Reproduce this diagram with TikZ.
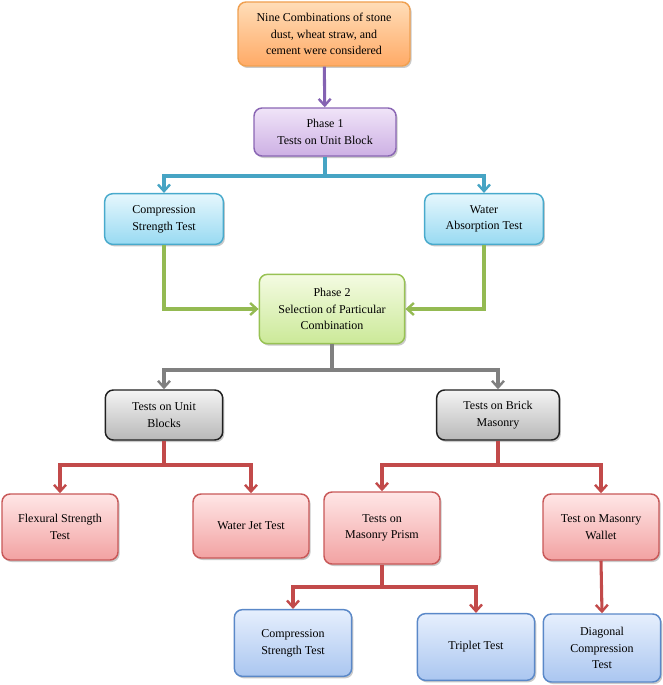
\documentclass[tikz,border=0pt]{standalone}
\usepackage{fontspec}
\setmainfont{Liberation Serif}
\usetikzlibrary{arrows.meta,shadows}
\definecolor{orB}{HTML}{F0A050}\definecolor{orT}{HTML}{FFDDB8}\definecolor{orD}{HTML}{FFAA66}
\definecolor{puB}{HTML}{8A66B4}\definecolor{puT}{HTML}{F0E4F8}\definecolor{puD}{HTML}{CDB0E4}
\definecolor{blB}{HTML}{48AACC}\definecolor{blT}{HTML}{E6F7FD}\definecolor{blD}{HTML}{98DAF2}
\definecolor{grB}{HTML}{98C254}\definecolor{grT}{HTML}{F4FBE2}\definecolor{grD}{HTML}{CBE998}
\definecolor{gyB}{HTML}{202020}\definecolor{gyT}{HTML}{F4F4F4}\definecolor{gyD}{HTML}{B8B8B8}
\definecolor{rdB}{HTML}{C85858}\definecolor{rdT}{HTML}{FFE6E6}\definecolor{rdD}{HTML}{F2A2A2}
\definecolor{lbB}{HTML}{5A88C8}\definecolor{lbT}{HTML}{E6EFFD}\definecolor{lbD}{HTML}{AAC6F0}
\definecolor{cPu}{HTML}{8462B2}\definecolor{cBl}{HTML}{46A4C4}\definecolor{cGr}{HTML}{94BA52}
\definecolor{cGy}{HTML}{808080}\definecolor{cRd}{HTML}{C24A4A}
\tikzset{
  box/.style={rounded corners=6pt, line width=1.1pt, align=center, inner sep=2pt,
    font=\fontsize{9}{12.5}\selectfont,
    drop shadow={shadow xshift=1.2pt,shadow yshift=-1.5pt,opacity=0.35,fill=black!60}},
  orbox/.style={box,draw=orB,top color=orT,bottom color=orD},
  pubox/.style={box,draw=puB,top color=puT,bottom color=puD},
  blbox/.style={box,draw=blB,top color=blT,bottom color=blD},
  grbox/.style={box,draw=grB,top color=grT,bottom color=grD},
  gybox/.style={box,draw=gyB,top color=gyT,bottom color=gyD},
  rdbox/.style={box,draw=rdB,top color=rdT,bottom color=rdD},
  lbbox/.style={box,draw=lbB,top color=lbT,bottom color=lbD},
  conn/.style={line width=2.3pt,-{Straight Barb[length=5pt,width=9pt,line width=1.8pt]}},
  cpu/.style={conn,draw=cPu},
  cbl/.style={conn,draw=cBl},
  cgr/.style={conn,draw=cGr},
  cgy/.style={conn,draw=cGy},
  crd/.style={conn,draw=cRd},
}
\begin{document}
\begin{tikzpicture}[x=0.75pt,y=-0.75pt]
\useasboundingbox (0,0) rectangle (663,685);
\node[orbox,minimum width=129pt,minimum height=48pt] (top) at (324,34) {Nine Combinations of stone\\dust, wheat straw, and\\cement were considered};
\node[pubox,minimum width=106.5pt,minimum height=36pt] (p1) at (325,132) {Phase 1\\Tests on Unit Block};
\node[blbox,minimum width=89pt,minimum height=38pt] (cs) at (164,219) {Compression\\Strength Test};
\node[blbox,minimum width=89pt,minimum height=38pt] (wa) at (484,219) {Water\\Absorption Test};
\node[grbox,minimum width=109pt,minimum height=52pt] (p2) at (332,309) {Phase 2\\Selection of Particular\\Combination};
\node[gybox,minimum width=88pt,minimum height=37.5pt] (ub) at (164,415) {Tests on Unit\\Blocks};
\node[gybox,minimum width=92pt,minimum height=37.5pt] (bm) at (498,415) {Tests on Brick\\Masonry};
\node[rdbox,minimum width=87pt,minimum height=49.5pt] (fs) at (60,527) {Flexural Strength\\Test};
\node[rdbox,minimum width=87pt,minimum height=48pt] (wj) at (251,526) {Water Jet Test};
\node[rdbox,minimum width=87pt,minimum height=54pt] (mp) at (382,528) {Tests on\\Masonry Prism};
\node[rdbox,minimum width=87pt,minimum height=49.5pt] (mw) at (601,527) {Test on Masonry\\Wallet};
\node[lbbox,minimum width=88pt,minimum height=50pt] (c2) at (293,643) {Compression\\Strength Test};
\node[lbbox,minimum width=88pt,minimum height=50pt] (tt) at (476,647) {Triplet Test};
\node[lbbox,minimum width=88pt,minimum height=51pt] (dc) at (602,648) {Diagonal\\Compression\\Test};
\coordinate (j1) at (325,176);
\coordinate (j2) at (332,370);
\coordinate (j3) at (164,465);
\coordinate (j4) at (498,465);
\coordinate (j5) at (382,587);
\draw[cpu] (top) -- (p1);
\draw[cbl] (p1.south) -- (j1) -| (cs.north);
\draw[cbl] (j1) -| (wa.north);
\draw[cgr] (cs.south) |- (p2.west);
\draw[cgr] (wa.south) |- (p2.east);
\draw[cgy] (p2.south) -- (j2) -| (ub.north);
\draw[cgy] (j2) -| (bm.north);
\draw[crd] (ub.south) -- (j3) -| (fs.north);
\draw[crd] (j3) -| (wj.north);
\draw[crd] (bm.south) -- (j4) -| (mp.north);
\draw[crd] (j4) -| (mw.north);
\draw[crd] (mp.south) -- (j5) -| (c2.north);
\draw[crd] (j5) -| (tt.north);
\draw[crd] (mw.south) -- (dc.north);
\end{tikzpicture}
\end{document}
